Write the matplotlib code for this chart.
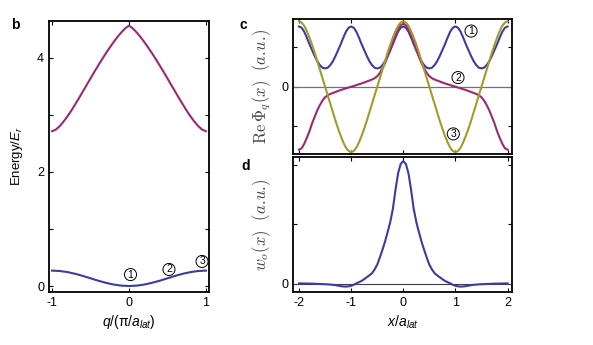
import numpy as np
import matplotlib
matplotlib.use('Agg')
import matplotlib.pyplot as plt

plt.rcParams['font.family'] = ['Liberation Sans', 'DejaVu Sans']
plt.rcParams['mathtext.fontset'] = 'custom'
plt.rcParams['mathtext.rm'] = 'Liberation Sans'
plt.rcParams['mathtext.it'] = 'Liberation Sans:italic'
plt.rcParams['axes.unicode_minus'] = False

# ---- data ----
# panel b: band structure
q_b1 = np.linspace(-1, 1, 21)
band_1 = [0.270, 0.263, 0.244, 0.214, 0.177, 0.135, 0.093, 0.056, 0.026, 0.007, 0.000,
          0.007, 0.026, 0.056, 0.093, 0.135, 0.177, 0.214, 0.244, 0.263, 0.270]
q_b2 = np.linspace(-1, 1, 41)
band_2 = [2.71, 2.74, 2.80, 2.88, 2.97, 3.07, 3.18, 3.29, 3.405, 3.52,
          3.635, 3.75, 3.86, 3.97, 4.075, 4.175, 4.27, 4.36, 4.44, 4.51,
          4.56,
          4.51, 4.44, 4.36, 4.27, 4.175, 4.075, 3.97, 3.86, 3.75, 3.635,
          3.52, 3.405, 3.29, 3.18, 3.07, 2.97, 2.88, 2.80, 2.74, 2.71]
# circled state markers (q, E)
marks_b = [(0.02, 0.20, '1'), (0.52, 0.29, '2'), (0.95, 0.43, '3')]

# panel c: Bloch functions, x = -2 ... 2 in steps of 0.05
x_pos = np.linspace(-2, 2, 81)
phi_1 = [0.92, 0.90, 0.84, 0.75, 0.65, 0.56, 0.47, 0.39, 0.33, 0.29,
         0.28, 0.29, 0.33, 0.39, 0.47, 0.56, 0.65, 0.75, 0.84, 0.90,
         0.92, 0.90, 0.84, 0.75, 0.65, 0.56, 0.47, 0.39, 0.33, 0.29,
         0.28, 0.29, 0.33, 0.39, 0.47, 0.56, 0.65, 0.75, 0.84, 0.90,
         0.92, 0.90, 0.84, 0.75, 0.65, 0.56, 0.47, 0.39, 0.33, 0.29,
         0.28, 0.29, 0.33, 0.39, 0.47, 0.56, 0.65, 0.75, 0.84, 0.90,
         0.92, 0.90, 0.84, 0.75, 0.65, 0.56, 0.47, 0.39, 0.33, 0.29,
         0.28, 0.29, 0.33, 0.39, 0.47, 0.56, 0.65, 0.75, 0.84, 0.90,
         0.92]
phi_2 = [-0.96, -0.94, -0.87, -0.78, -0.68, -0.56, -0.46, -0.36, -0.28, -0.21,
         -0.16, -0.13, -0.11, -0.095, -0.08, -0.065, -0.05, -0.038, -0.025, -0.012,
         0.0, 0.012, 0.025, 0.038, 0.05, 0.065, 0.08, 0.095, 0.11, 0.13,
         0.16, 0.21, 0.28, 0.36, 0.46, 0.56, 0.68, 0.78, 0.87, 0.94,
         0.96,
         0.94, 0.87, 0.78, 0.68, 0.56, 0.46, 0.36, 0.28, 0.21, 0.16,
         0.13, 0.11, 0.095, 0.08, 0.065, 0.05, 0.038, 0.025, 0.012, 0.0,
         -0.012, -0.025, -0.038, -0.05, -0.065, -0.08, -0.095, -0.11, -0.13, -0.16,
         -0.21, -0.28, -0.36, -0.46, -0.56, -0.68, -0.78, -0.87, -0.94, -0.96]
phi_3 = [1.00, 0.98, 0.93, 0.85, 0.75, 0.64, 0.52, 0.39, 0.26, 0.13,
         0.00, -0.13, -0.26, -0.39, -0.52, -0.64, -0.75, -0.85, -0.93, -0.98,
         -1.00, -0.98, -0.93, -0.85, -0.75, -0.64, -0.52, -0.39, -0.26, -0.13,
         0.00, 0.13, 0.26, 0.39, 0.52, 0.64, 0.75, 0.85, 0.93, 0.98,
         1.00, 0.98, 0.93, 0.85, 0.75, 0.64, 0.52, 0.39, 0.26, 0.13,
         0.00, -0.13, -0.26, -0.39, -0.52, -0.64, -0.75, -0.85, -0.93, -0.98,
         -1.00, -0.98, -0.93, -0.85, -0.75, -0.64, -0.52, -0.39, -0.26, -0.13,
         0.00, 0.13, 0.26, 0.39, 0.52, 0.64, 0.75, 0.85, 0.93, 0.98,
         1.00]
marks_c = [(1.30, 0.85, '1'), (1.05, 0.14, '2'), (0.96, -0.72, '3')]

# panel d: Wannier function
wannier = [0.002, 0.002, 0.001, 0.001, 0.0, 0.0, -0.001, -0.002, -0.003, -0.004,
           -0.005, -0.006, -0.008, -0.010, -0.013, -0.017, -0.021, -0.024, -0.025, -0.023,
           -0.018, -0.010, 0.003, 0.012, 0.023, 0.038, 0.054, 0.070, 0.088, 0.120,
           0.160, 0.220, 0.285, 0.355, 0.435, 0.520, 0.630, 0.790, 0.930, 1.010,
           1.034,
           1.010, 0.930, 0.790, 0.630, 0.520, 0.435, 0.355, 0.285, 0.220, 0.160,
           0.120, 0.088, 0.070, 0.054, 0.038, 0.023, 0.012, 0.003, -0.010, -0.018,
           -0.023, -0.025, -0.024, -0.021, -0.017, -0.013, -0.010, -0.008, -0.006, -0.005,
           -0.004, -0.003, -0.002, -0.001, 0.0, 0.0, 0.001, 0.001, 0.002, 0.002]

blue = '#3C3CA0'
purple = '#982A74'
olive = '#A39A2C'


def style_axes(ax):
    for s in ax.spines.values():
        s.set_linewidth(1.3)
    ax.tick_params(direction='in', length=3, width=0.8, top=True, right=True,
                   labelsize=9, pad=3.5)


def circled(ax, x, y, s):
    ax.text(x, y, s, fontsize=7.5, ha='center', va='center',
            bbox=dict(boxstyle='circle,pad=0.1', fc='white', ec='black', lw=0.7))


fig = plt.figure(figsize=(5.93, 3.45), dpi=100)

# ---- panel b ----
axb = fig.add_axes([0.0826, 0.1536, 0.2698, 0.7855])
axb.plot(q_b2, band_2, color=purple, lw=1.5)
axb.plot(q_b1, band_1, color=blue, lw=1.5)
for q, e, s in marks_b:
    circled(axb, q, e, s)
axb.set_xlim(-1.04, 1.04)
axb.set_ylim(-0.105, 4.64)
axb.set_xticks([-1, 0, 1])
axb.set_yticks([0, 1, 2, 3, 4])
axb.set_yticklabels(['0', '', '2', '', '4'])
style_axes(axb)
axb.set_ylabel('Energy/$E_r$', fontsize=9.5)
axb.yaxis.set_label_coords(-0.15, 0.5)
axb.set_xlabel(r'$q$/(π/$a_{lat}$)', fontsize=10, labelpad=3)

# ---- panel c ----
axc = fig.add_axes([0.4946, 0.5536, 0.3683, 0.3913])
axc.axhline(0, color='#707070', lw=0.9)
axc.plot(x_pos, phi_1, color=blue, lw=1.5)
axc.plot(x_pos, phi_2, color=purple, lw=1.5)
axc.plot(x_pos, phi_3, color=olive, lw=1.5)
for x, y, s in marks_c:
    circled(axc, x, y, s)
axc.set_xlim(-2.11, 2.08)
axc.set_ylim(-1.027, 1.034)
axc.set_xticks([-2, -1, 0, 1, 2])
axc.set_xticklabels([])
axc.set_yticks([-0.6, 0, 0.6])
axc.set_yticklabels(['', '0', ''])
style_axes(axc)
axc.set_ylabel(r'$\mathrm{Re}\,\Phi_q(x)\ \ (a.\!u.\!)$', fontsize=12,
               math_fontfamily='cm', color='#444444')
axc.yaxis.set_label_coords(-0.095, 0.5)

# ---- panel d ----
axd = fig.add_axes([0.4946, 0.1528, 0.3683, 0.3930])
axd.axhline(0, color='#404040', lw=0.8)
axd.plot(x_pos, wannier, color=blue, lw=1.5)
axd.set_xlim(-2.11, 2.08)
axd.set_ylim(-0.073, 1.071)
axd.set_xticks([-2, -1, 0, 1, 2])
axd.set_yticks([0, 0.5, 1])
axd.set_yticklabels(['0', '', ''])
style_axes(axd)
axd.set_ylabel(r'$w_o(x)\ \ (a.\!u.\!)$', fontsize=12,
               math_fontfamily='cm', color='#444444')
axd.yaxis.set_label_coords(-0.095, 0.5)
axd.set_xlabel(r'$x$/$a_{lat}$', fontsize=10, labelpad=3)

# panel letters
fig.text(0.0253, 0.9275, 'b', fontsize=10, fontweight='bold', ha='center', va='center')
fig.text(0.4098, 0.9275, 'c', fontsize=10, fontweight='bold', ha='center', va='center')
fig.text(0.4140, 0.5200, 'd', fontsize=10, fontweight='bold', ha='center', va='center')

fig.savefig('out.png', dpi=100)
